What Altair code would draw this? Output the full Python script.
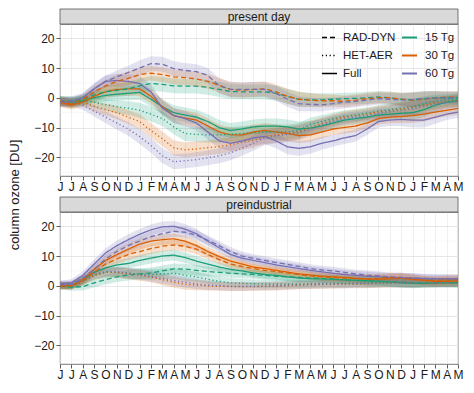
import altair as alt
import pandas as pd

months = ["J", "J", "A", "S", "O", "N", "D", "J", "F", "M", "A", "M",
          "J", "J", "A", "S", "O", "N", "D", "J", "F", "M", "A", "M",
          "J", "J", "A", "S", "O", "N", "D", "J", "F", "M", "A", "M"]
experiments = ["RAD-DYN", "HET-AER", "Full"]
loads = ["15 Tg", "30 Tg", "60 Tg"]
panels = ["present day", "preindustrial"]
y_title = "column ozone [DU]"

# ---------------- present day ----------------
pd_full_15 = [-1.0, -2.0, -1.0, 0.0, 0.8, 1.2, 1.5, 1.8, -0.5, -3.0, -5.0, -5.8,
              -6.5, -8.0, -10.0, -11.0, -10.5, -9.8, -9.5, -9.5, -9.8, -10.5, -10.2, -9.5,
              -8.5, -7.5, -7.0, -6.5, -5.8, -5.5, -5.2, -5.0, -4.0, -2.5, -1.5, -1.0]
pd_full_30 = [-1.5, -2.5, -1.5, 0.5, 2.0, 2.8, 3.0, 3.0, 0.5, -3.0, -6.0, -6.8,
              -7.5, -9.5, -11.5, -12.5, -12.5, -11.5, -11.0, -11.5, -12.0, -12.7, -12.5, -11.5,
              -10.5, -10.0, -9.5, -8.5, -7.0, -6.5, -6.3, -6.0, -5.5, -4.8, -4.2, -3.6]
pd_full_60 = [-1.5, -1.5, 0.0, 3.0, 5.5, 5.8, 5.5, 4.8, 2.0, -3.5, -6.0, -7.0,
              -8.5, -11.5, -14.5, -15.3, -14.5, -13.5, -13.0, -14.5, -16.5, -17.0, -16.5, -15.3,
              -14.5, -13.5, -12.7, -10.5, -8.0, -7.5, -7.3, -7.5, -7.5, -6.5, -5.5, -4.8]
pd_rad_15 = [-1.0, -1.5, -0.5, 1.0, 2.0, 2.5, 3.0, 4.0, 4.8, 4.5, 4.0, 3.9,
             3.9, 3.5, 2.8, 2.1, 2.0, 2.0, 2.0, 1.5, 0.5, -0.5, -0.7, -0.7,
             -0.5, -0.3, -0.2, 0.0, 0.3, 0.0, -0.5, -0.7, -0.3, 0.0, 0.0, 0.0]
pd_rad_30 = [-1.5, -2.0, -0.5, 2.0, 4.0, 5.5, 6.5, 7.8, 8.3, 7.8, 7.0, 6.8,
             6.3, 5.5, 4.2, 2.8, 2.5, 2.8, 3.0, 2.0, 0.5, -0.5, -0.8, -1.0,
             -1.0, -1.2, -0.8, -0.3, 0.0, 0.0, -0.5, -0.8, -0.5, 0.0, 0.2, 0.3]
pd_rad_60 = [-1.0, -1.0, 0.0, 3.0, 5.5, 7.0, 8.5, 10.0, 11.5, 11.3, 9.8, 9.2,
             8.8, 7.5, 4.0, 2.8, 2.8, 2.8, 2.8, 1.5, -0.5, -2.0, -2.2, -2.4,
             -2.0, -1.5, -1.2, -0.8, -0.3, -0.5, -0.8, -0.6, -0.3, 0.0, 0.0, 0.0]
pd_het_15 = [-1.0, -1.0, -1.0, -1.5, -2.3, -3.0, -3.5, -4.2, -5.5, -7.0, -9.8, -12.0,
             -12.3, -12.5, -12.5, -12.3, -12.0, -11.8, -11.5, -11.5, -11.5, -11.0, -9.0, -8.0,
             -7.0, -6.2, -5.8, -5.2, -4.5, -4.0, -3.5, -3.0, -2.0, -1.2, -0.8, -0.5]
pd_het_30 = [-1.0, -1.5, -1.5, -2.8, -4.0, -5.0, -6.5, -8.0, -11.0, -13.8, -16.8, -17.5,
             -17.2, -16.8, -16.4, -15.8, -15.0, -14.3, -13.0, -12.5, -12.0, -11.5, -10.0, -8.8,
             -7.5, -6.5, -6.0, -5.5, -4.8, -4.3, -3.8, -3.3, -2.5, -1.8, -1.3, -1.0]
pd_het_60 = [-1.5, -1.5, -2.5, -4.5, -6.5, -8.5, -10.5, -13.0, -16.0, -19.5, -21.5, -21.2,
             -20.8, -20.2, -19.5, -18.5, -17.0, -15.3, -13.5, -12.8, -12.3, -11.8, -10.5, -9.2,
             -8.0, -7.0, -6.5, -6.0, -5.3, -4.7, -4.2, -3.6, -3.0, -2.2, -1.6, -1.2]
pd_spread = [1.5, 1.5, 1.5, 1.8, 2.0, 2.2, 2.3, 2.5, 2.5, 2.5, 2.5, 2.5,
             2.5, 2.5, 2.5, 2.5, 2.5, 2.5, 2.5, 2.5, 2.5, 2.5, 2.3, 2.2,
             2.0, 2.0, 2.0, 2.0, 2.0, 2.0, 2.2, 2.5, 2.5, 2.2, 2.0, 2.0]

# ---------------- preindustrial ----------------
pi_full_15 = [0.0, 0.0, 2.0, 4.5, 6.0, 7.0, 7.5, 8.5, 9.3, 10.0, 10.3, 9.5,
              8.3, 7.3, 6.3, 5.5, 5.0, 4.3, 3.8, 3.5, 3.0, 2.6, 2.4, 2.3,
              2.2, 2.0, 1.8, 1.7, 1.5, 1.3, 1.0, 0.8, 0.8, 1.0, 1.2, 1.0]
pi_full_30 = [0.0, 0.0, 2.0, 5.5, 8.5, 10.5, 12.3, 14.0, 15.0, 15.5, 15.8, 15.0,
              13.5, 11.5, 9.8, 8.3, 7.3, 6.3, 5.8, 5.2, 4.6, 4.0, 3.6, 3.2,
              3.0, 2.8, 2.5, 2.3, 2.2, 2.3, 2.5, 2.2, 1.8, 1.5, 1.5, 1.6]
pi_full_60 = [0.5, 1.0, 3.5, 7.3, 11.0, 13.5, 15.5, 17.3, 18.8, 19.8, 20.0, 19.0,
              17.5, 15.0, 12.8, 10.5, 9.3, 8.5, 7.8, 7.0, 6.4, 5.8, 5.2, 4.7,
              4.2, 3.8, 3.5, 3.2, 3.0, 2.8, 2.7, 2.6, 2.4, 2.3, 2.3, 2.4]
pi_rad_15 = [0.0, -0.5, -0.3, 1.0, 2.0, 3.0, 3.6, 4.0, 4.3, 5.0, 5.7, 5.6,
             5.2, 4.8, 4.5, 4.2, 4.0, 3.8, 3.5, 3.2, 3.0, 2.8, 2.6, 2.5,
             2.3, 2.0, 1.8, 1.6, 1.5, 1.3, 1.2, 1.0, 1.0, 1.0, 1.0, 1.0]
pi_rad_30 = [0.0, 0.0, 1.5, 4.5, 7.3, 9.0, 10.5, 11.5, 12.5, 13.3, 13.7, 13.3,
             12.3, 10.5, 8.8, 7.3, 6.5, 5.8, 5.2, 4.8, 4.3, 3.8, 3.3, 3.0,
             2.8, 2.6, 2.4, 2.3, 2.5, 2.8, 2.8, 2.2, 1.8, 1.8, 2.0, 2.0]
pi_rad_60 = [0.5, 0.5, 2.5, 5.5, 9.0, 11.5, 13.5, 15.0, 16.5, 17.5, 18.3, 18.0,
             17.0, 15.3, 13.5, 11.5, 10.0, 9.2, 8.5, 7.8, 7.2, 6.5, 5.8, 5.3,
             5.0, 4.5, 4.0, 3.6, 3.3, 3.0, 2.8, 2.6, 2.5, 2.4, 2.3, 2.2]
pi_het_15 = [0.0, 0.0, 1.5, 3.5, 4.5, 4.5, 4.2, 4.0, 3.8, 4.0, 4.2, 3.5,
             3.0, 2.2, 1.5, 1.0, 0.8, 0.7, 0.6, 0.6, 0.6, 0.6, 0.7, 0.8,
             0.8, 0.8, 0.9, 0.9, 1.0, 1.0, 1.0, 1.0, 1.0, 1.0, 1.0, 1.0]
pi_het_30 = [0.0, 0.0, 1.5, 3.5, 4.5, 4.5, 4.0, 3.5, 3.0, 2.0, 1.2, 0.5,
             0.2, 0.0, -0.2, -0.3, -0.3, -0.3, -0.2, -0.2, 0.0, 0.2, 0.3, 0.4,
             0.5, 0.6, 0.6, 0.7, 0.8, 0.9, 1.0, 1.0, 1.0, 1.0, 1.0, 1.0]
pi_het_60 = [0.3, 0.3, 1.8, 4.0, 4.8, 4.8, 4.3, 3.8, 3.2, 2.5, 1.8, 1.2,
             0.6, 0.2, 0.0, -0.2, -0.2, -0.2, -0.1, 0.0, 0.2, 0.3, 0.4, 0.5,
             0.6, 0.6, 0.7, 0.8, 0.9, 1.0, 1.0, 1.0, 1.0, 1.0, 1.0, 1.0]
pi_spread = [1.2, 1.2, 1.3, 1.5, 1.6, 1.7, 1.8, 1.8, 1.8, 1.8, 1.8, 1.8,
             1.7, 1.6, 1.5, 1.5, 1.5, 1.4, 1.4, 1.4, 1.4, 1.4, 1.4, 1.4,
             1.4, 1.4, 1.4, 1.5, 1.5, 1.5, 1.6, 1.6, 1.5, 1.5, 1.5, 1.5]

series = {
    ("present day", "Full", "15 Tg"): pd_full_15,
    ("present day", "Full", "30 Tg"): pd_full_30,
    ("present day", "Full", "60 Tg"): pd_full_60,
    ("present day", "RAD-DYN", "15 Tg"): pd_rad_15,
    ("present day", "RAD-DYN", "30 Tg"): pd_rad_30,
    ("present day", "RAD-DYN", "60 Tg"): pd_rad_60,
    ("present day", "HET-AER", "15 Tg"): pd_het_15,
    ("present day", "HET-AER", "30 Tg"): pd_het_30,
    ("present day", "HET-AER", "60 Tg"): pd_het_60,
    ("preindustrial", "Full", "15 Tg"): pi_full_15,
    ("preindustrial", "Full", "30 Tg"): pi_full_30,
    ("preindustrial", "Full", "60 Tg"): pi_full_60,
    ("preindustrial", "RAD-DYN", "15 Tg"): pi_rad_15,
    ("preindustrial", "RAD-DYN", "30 Tg"): pi_rad_30,
    ("preindustrial", "RAD-DYN", "60 Tg"): pi_rad_60,
    ("preindustrial", "HET-AER", "15 Tg"): pi_het_15,
    ("preindustrial", "HET-AER", "30 Tg"): pi_het_30,
    ("preindustrial", "HET-AER", "60 Tg"): pi_het_60,
}
spreads = {"present day": pd_spread, "preindustrial": pi_spread}

rows = []
for (panel, exp, tg), vals in series.items():
    spr = spreads[panel]
    for i, (v, s) in enumerate(zip(vals, spr)):
        rows.append({"panel": panel, "exp": exp, "tg": tg, "band_tg": tg, "m": i,
                     "v": v, "lo": v - s, "hi": v + s})
df = pd.DataFrame(rows)

W, H = 398, 152
STRIP = 15
GAP = 36
ydom = [-26.3, 24.8]
colors = ["#1b9e77", "#d95f02", "#7570b3"]
label_expr = "[" + ",".join("'%s'" % m for m in months) + "][datum.value]"

cscale = alt.Scale(domain=loads, range=colors)
fscale = alt.Scale(range=colors)
dscale = alt.Scale(domain=experiments, range=[[5, 3], [1.2, 2.6], [1, 0]])
yscale = alt.Scale(domain=ydom, nice=False, zero=False)
xscale = alt.Scale(domain=[0, 35], nice=False, zero=False)

xaxis = alt.Axis(values=list(range(36)), labelExpr=label_expr, title=None,
                 grid=True, gridColor="#e4e4e4", gridWidth=0.6, domain=False,
                 tickSize=4, tickColor="#333333", tickWidth=0.8,
                 labelFontSize=12, labelColor="#1a1a1a", labelPadding=1,
                 labelFlush=False, labelOverlap=False, labelBound=False)
yaxis = alt.Axis(values=[-20, -10, 0, 10, 20], title=None, grid=True,
                 gridColor="#e0e0e0", gridWidth=0.8, domain=False,
                 tickSize=4, tickColor="#333333", tickWidth=0.8,
                 labelFontSize=12, labelColor="#1a1a1a", labelPadding=2)

minor_vals = [-25, -15, -5, 5, 15]


def make_panel(name, legend):
    d = df[df.panel == name]
    x = alt.X("m:Q", scale=xscale, axis=xaxis)
    minor = alt.Chart(pd.DataFrame({"g": minor_vals})).mark_rule(
        color="#f1f1f1", strokeWidth=0.6).encode(
        y=alt.Y("g:Q", scale=yscale, axis=yaxis))
    bands = alt.Chart(d).mark_area(opacity=0.2).encode(
        x=x,
        y=alt.Y("lo:Q", scale=yscale, axis=yaxis),
        y2="hi:Q",
        fill=alt.Fill("band_tg:N", scale=fscale, legend=None),
        detail="exp:N",
    )
    if legend:
        cleg = alt.Legend(orient="none", legendX=341, legendY=5, title=None,
                          symbolType="stroke", symbolStrokeWidth=2, symbolSize=225,
                          labelFontSize=11.5, labelColor="#1a1a1a", labelOffset=7,
                          rowPadding=4, padding=0)
        dleg = alt.Legend(orient="none", legendX=261, legendY=5, title=None,
                          symbolType="stroke", symbolStrokeWidth=1.5, symbolSize=225,
                          symbolStrokeColor="black",
                          labelFontSize=11.5, labelColor="#1a1a1a", labelOffset=5,
                          rowPadding=4, padding=0)
    else:
        cleg = None
        dleg = None
    lines = alt.Chart(d).mark_line(strokeWidth=1.3).encode(
        x=x,
        y=alt.Y("v:Q", scale=yscale, axis=yaxis),
        color=alt.Color("tg:N", scale=cscale, legend=cleg),
        strokeDash=alt.StrokeDash("exp:N", scale=dscale, legend=dleg),
    )
    lab = pd.DataFrame({"label": [name]})
    strip_rect = alt.Chart(lab).mark_rect(
        fill="#d9d9d9", stroke="#555555", strokeWidth=0.8).encode(
        x=alt.value(0), x2=alt.value(W), y=alt.value(-STRIP), y2=alt.value(0))
    strip_text = alt.Chart(lab).mark_text(fontSize=12, color="#1a1a1a").encode(
        x=alt.value(W / 2), y=alt.value(-STRIP / 2 + 0.5), text="label:N")
    layers = [minor, bands, lines, strip_rect, strip_text]
    if not legend:
        tt = alt.Chart(pd.DataFrame({"t": [y_title]})).mark_text(
            angle=270, fontSize=13, color="#1a1a1a").encode(
            x=alt.value(-45), y=alt.value(-17), text="t:N")
        layers.append(tt)
    return alt.layer(*layers).properties(width=W, height=H)


top = make_panel(panels[0], True)
bottom = make_panel(panels[1], False)

chart = alt.vconcat(top, bottom, spacing=GAP, bounds="flush").resolve_scale(
    color="independent", strokeDash="independent", fill="independent",
    x="independent", y="independent"
).properties(
    padding={"left": 0, "top": 0, "right": 0, "bottom": 0}
).configure(font="Liberation Sans").configure_view(
    stroke="#555555", strokeWidth=0.8
)

chart.save("out.html", embed_options={"renderer": "svg", "actions": False})
